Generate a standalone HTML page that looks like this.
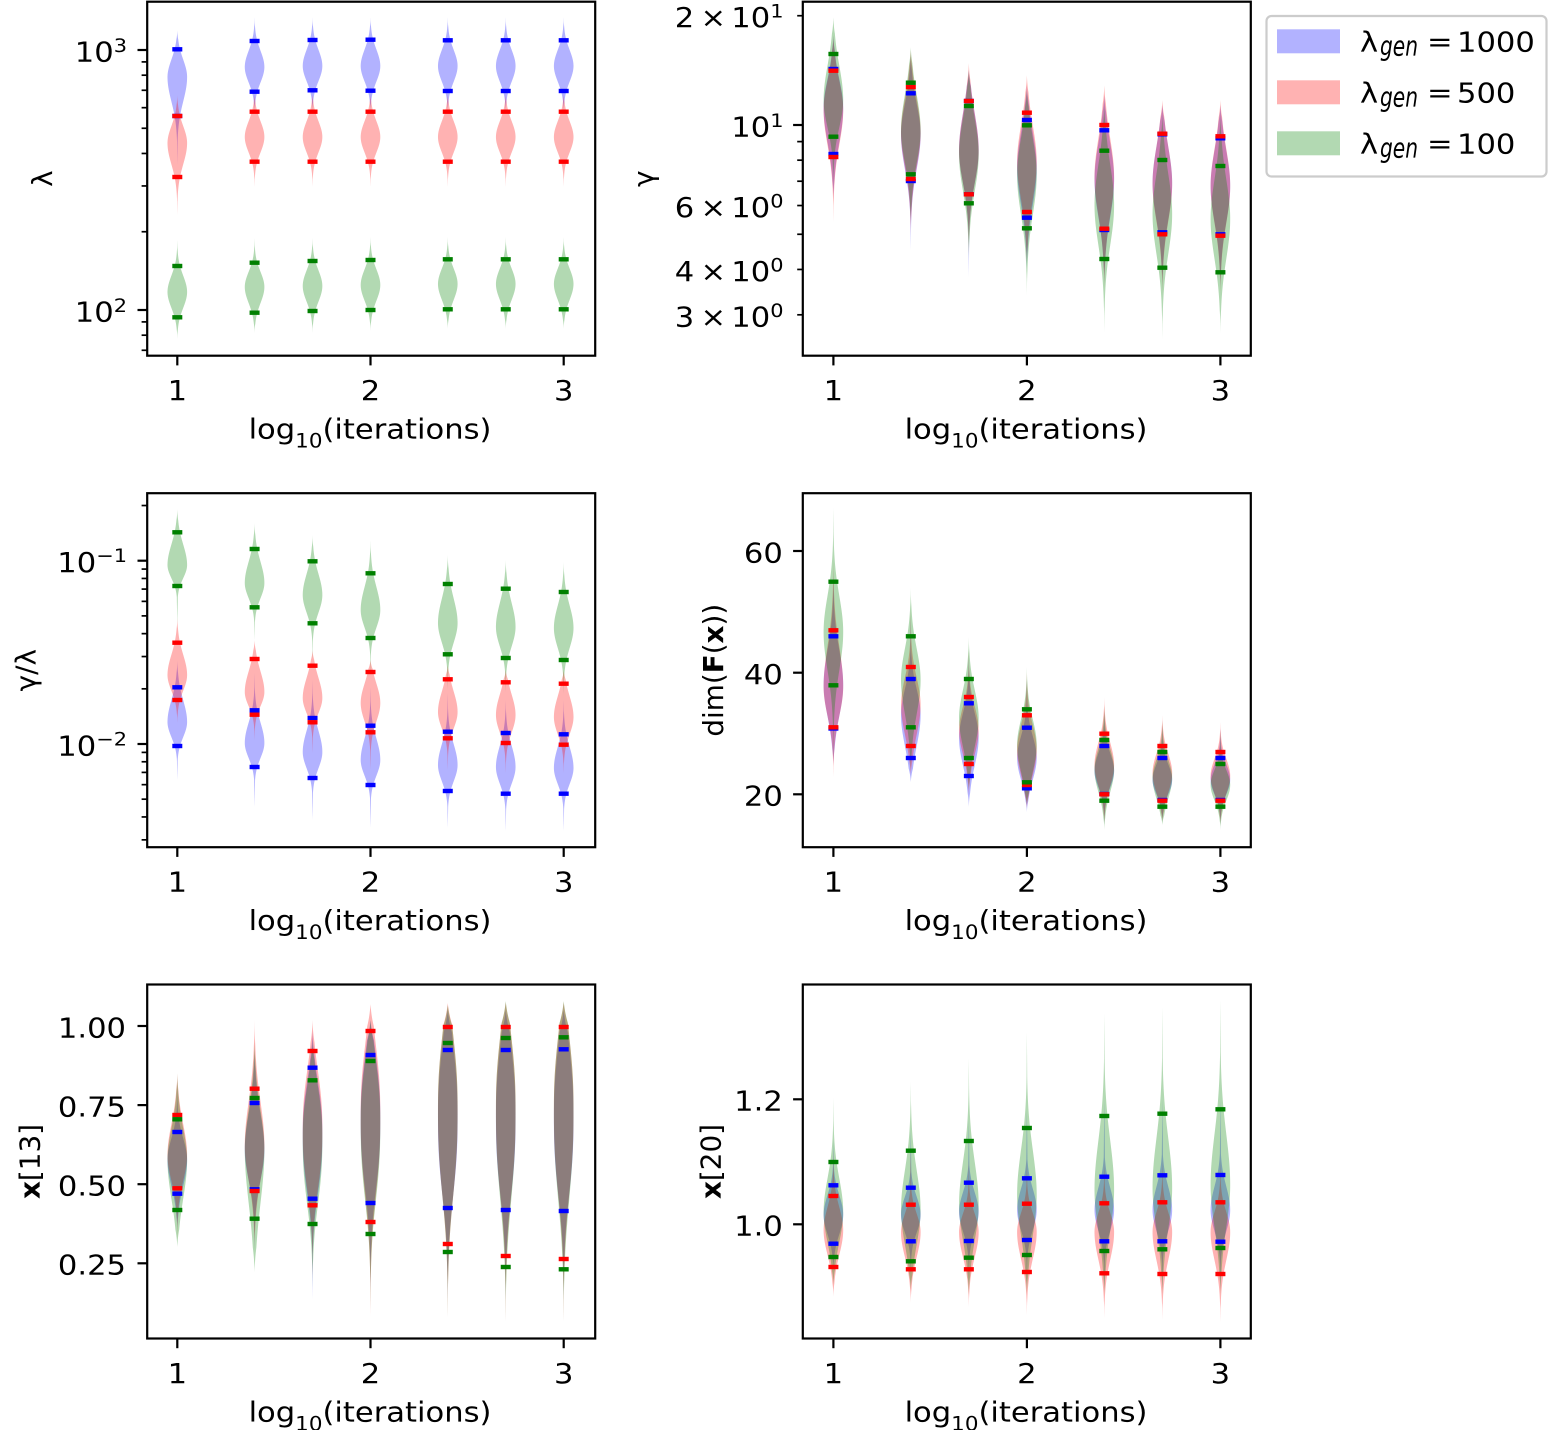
<!DOCTYPE html>
<html><head><meta charset="utf-8">
<style>
html,body{margin:0;padding:0;background:#fff;}
svg{display:block;}
text{font-family:"DejaVu Sans","Liberation Sans",sans-serif;font-size:27.8px;fill:#000;}
</style></head>
<body>
<svg id="c" xmlns="http://www.w3.org/2000/svg" width="1550" height="1430" viewBox="0 0 1550 1430">
<rect x="0" y="0" width="1550" height="1430" fill="#fff"/>
<defs>
<clipPath id="k0"><rect x="147.2" y="1.7" width="448" height="354"/></clipPath>
<clipPath id="k1"><rect x="802.8" y="1.7" width="448" height="354"/></clipPath>
<clipPath id="k2"><rect x="147.2" y="493.2" width="448" height="354"/></clipPath>
<clipPath id="k3"><rect x="802.8" y="493.2" width="448" height="354"/></clipPath>
<clipPath id="k4"><rect x="147.2" y="984.5" width="448" height="354"/></clipPath>
<clipPath id="k5"><rect x="802.8" y="984.5" width="448" height="354"/></clipPath>
</defs>
<g id="plots"></g>
<g id="axes"></g>

<!-- Panel 1 y tick labels -->
<text text-anchor="end" transform="translate(127,61.5) scale(1.1,1)">10<tspan font-size="19" dy="-9.5">3</tspan></text>
<text text-anchor="end" transform="translate(127,321.5) scale(1.1,1)">10<tspan font-size="19" dy="-9.5">2</tspan></text>

<!-- Panel 2 y tick labels -->
<text text-anchor="middle" transform="translate(684.5,27.2) scale(1.1,1)">2</text>
<text text-anchor="middle" transform="translate(713.3,27.2) scale(1.1,1)">×</text>
<text text-anchor="end" transform="translate(783.5,27.2) scale(1.1,1)">10<tspan font-size="19" dy="-9.5">1</tspan></text>
<text text-anchor="end" transform="translate(783.5,136.6) scale(1.1,1)">10<tspan font-size="19" dy="-9.5">1</tspan></text>
<text text-anchor="middle" transform="translate(684.5,217.2) scale(1.1,1)">6</text>
<text text-anchor="middle" transform="translate(713.3,217.2) scale(1.1,1)">×</text>
<text text-anchor="end" transform="translate(783.5,217.2) scale(1.1,1)">10<tspan font-size="19" dy="-9.5">0</tspan></text>
<text text-anchor="middle" transform="translate(684.5,281) scale(1.1,1)">4</text>
<text text-anchor="middle" transform="translate(713.3,281) scale(1.1,1)">×</text>
<text text-anchor="end" transform="translate(783.5,281) scale(1.1,1)">10<tspan font-size="19" dy="-9.5">0</tspan></text>
<text text-anchor="middle" transform="translate(684.5,326.5) scale(1.1,1)">3</text>
<text text-anchor="middle" transform="translate(713.3,326.5) scale(1.1,1)">×</text>
<text text-anchor="end" transform="translate(783.5,326.5) scale(1.1,1)">10<tspan font-size="19" dy="-9.5">0</tspan></text>

<!-- Panel 3 y tick labels -->
<text text-anchor="end" transform="translate(127,572.2) scale(1.1,1)">10<tspan font-size="19" dy="-10">−1</tspan></text>
<text text-anchor="end" transform="translate(127,755.5) scale(1.1,1)">10<tspan font-size="19" dy="-10">−2</tspan></text>

<!-- Panel 4 y tick labels -->
<text text-anchor="end" transform="translate(782.8,562.3) scale(1.1,1)">60</text>
<text text-anchor="end" transform="translate(782.8,684) scale(1.1,1)">40</text>
<text text-anchor="end" transform="translate(782.8,805.3) scale(1.1,1)">20</text>

<!-- Panel 5 y tick labels -->
<text text-anchor="end" transform="translate(126,1037.3) scale(1.1,1)">1.00</text>
<text text-anchor="end" transform="translate(126,1116.4) scale(1.1,1)">0.75</text>
<text text-anchor="end" transform="translate(126,1195.5) scale(1.1,1)">0.50</text>
<text text-anchor="end" transform="translate(126,1274.6) scale(1.1,1)">0.25</text>

<!-- Panel 6 y tick labels -->
<text text-anchor="end" transform="translate(782.8,1110.6) scale(1.1,1)">1.2</text>
<text text-anchor="end" transform="translate(782.8,1235.6) scale(1.1,1)">1.0</text>

<!-- X tick labels row 1 -->
<text text-anchor="middle" transform="translate(177.3,400.2) scale(1.1,1)">1</text>
<text text-anchor="middle" transform="translate(370.5,400.2) scale(1.1,1)">2</text>
<text text-anchor="middle" transform="translate(563.7,400.2) scale(1.1,1)">3</text>
<text text-anchor="middle" transform="translate(833.4,400.2) scale(1.1,1)">1</text>
<text text-anchor="middle" transform="translate(1026.9,400.2) scale(1.1,1)">2</text>
<text text-anchor="middle" transform="translate(1220.4,400.2) scale(1.1,1)">3</text>
<!-- row 2 -->
<text text-anchor="middle" transform="translate(177.3,891.7) scale(1.1,1)">1</text>
<text text-anchor="middle" transform="translate(370.5,891.7) scale(1.1,1)">2</text>
<text text-anchor="middle" transform="translate(563.7,891.7) scale(1.1,1)">3</text>
<text text-anchor="middle" transform="translate(833.4,891.7) scale(1.1,1)">1</text>
<text text-anchor="middle" transform="translate(1026.9,891.7) scale(1.1,1)">2</text>
<text text-anchor="middle" transform="translate(1220.4,891.7) scale(1.1,1)">3</text>
<!-- row 3 -->
<text text-anchor="middle" transform="translate(177.3,1383) scale(1.1,1)">1</text>
<text text-anchor="middle" transform="translate(370.5,1383) scale(1.1,1)">2</text>
<text text-anchor="middle" transform="translate(563.7,1383) scale(1.1,1)">3</text>
<text text-anchor="middle" transform="translate(833.4,1383) scale(1.1,1)">1</text>
<text text-anchor="middle" transform="translate(1026.9,1383) scale(1.1,1)">2</text>
<text text-anchor="middle" transform="translate(1220.4,1383) scale(1.1,1)">3</text>

<!-- X labels -->
<text text-anchor="middle" transform="translate(370,438.3) scale(1.1,1)">log<tspan font-size="19.5" dy="9">10</tspan><tspan dy="-9">(iterations)</tspan></text>
<text text-anchor="middle" transform="translate(1026,438.3) scale(1.1,1)">log<tspan font-size="19.5" dy="9">10</tspan><tspan dy="-9">(iterations)</tspan></text>
<text text-anchor="middle" transform="translate(370,929.8) scale(1.1,1)">log<tspan font-size="19.5" dy="9">10</tspan><tspan dy="-9">(iterations)</tspan></text>
<text text-anchor="middle" transform="translate(1026,929.8) scale(1.1,1)">log<tspan font-size="19.5" dy="9">10</tspan><tspan dy="-9">(iterations)</tspan></text>
<text text-anchor="middle" transform="translate(370,1421.3) scale(1.1,1)">log<tspan font-size="19.5" dy="9">10</tspan><tspan dy="-9">(iterations)</tspan></text>
<text text-anchor="middle" transform="translate(1026,1421.3) scale(1.1,1)">log<tspan font-size="19.5" dy="9">10</tspan><tspan dy="-9">(iterations)</tspan></text>

<!-- Y labels -->
<text text-anchor="middle" transform="translate(52,178.7) rotate(-90)">λ</text>
<text text-anchor="middle" transform="translate(653,178.7) rotate(-90)">γ</text>
<text text-anchor="middle" transform="translate(35.5,670.2) rotate(-90)">γ/λ</text>
<text text-anchor="middle" transform="translate(723,670.2) rotate(-90)">dim(<tspan font-weight="bold">F</tspan>(<tspan font-weight="bold">x</tspan>))</text>
<text text-anchor="middle" transform="translate(39.5,1161.5) rotate(-90)"><tspan font-weight="bold">x</tspan>[13]</text>
<text text-anchor="middle" transform="translate(720.7,1161.5) rotate(-90)"><tspan font-weight="bold">x</tspan>[20]</text>

<!-- Legend -->
<rect x="1266.5" y="16" width="280" height="160.5" rx="5" ry="5" fill="#fff" stroke="#cccccc" stroke-width="2.2"/>
<rect x="1277" y="29.3" width="63" height="24" fill="#0000ff" fill-opacity="0.3"/>
<rect x="1277" y="80.3" width="63" height="24" fill="#ff0000" fill-opacity="0.3"/>
<rect x="1277" y="131.3" width="63" height="24" fill="#008000" fill-opacity="0.3"/>
<text transform="translate(1360,51.5) scale(1.1,1)">λ</text>
<text x="1380" y="55.5" font-size="20" font-style="italic" textLength="38" lengthAdjust="spacingAndGlyphs">gen</text>
<text transform="translate(1427,51.5) scale(1.1,1)">=</text>
<text transform="translate(1457,51.5) scale(1.1,1)">1000</text>
<text transform="translate(1360,102.5) scale(1.1,1)">λ</text>
<text x="1380" y="106.5" font-size="20" font-style="italic" textLength="38" lengthAdjust="spacingAndGlyphs">gen</text>
<text transform="translate(1427,102.5) scale(1.1,1)">=</text>
<text transform="translate(1457,102.5) scale(1.1,1)">500</text>
<text transform="translate(1360,153.5) scale(1.1,1)">λ</text>
<text x="1380" y="157.5" font-size="20" font-style="italic" textLength="38" lengthAdjust="spacingAndGlyphs">gen</text>
<text transform="translate(1427,153.5) scale(1.1,1)">=</text>
<text transform="translate(1457,153.5) scale(1.1,1)">100</text>
</svg>
<script>
(function(){
var NS='http://www.w3.org/2000/svg';
function el(tag,at,par){var e=document.createElementNS(NS,tag);for(var k in at)e.setAttribute(k,at[k]);par.appendChild(e);return e;}
var plots=document.getElementById('plots'), axes=document.getElementById('axes');
var XS=[1,1.4,1.7,2,2.4,2.7,3];
var COL={b:'#0000ff',r:'#ff0000',g:'#008000'};
var WD=9.8;
function rep(a,n){var o=[];for(var i=0;i<n;i++)o.push(a.slice());return o;}
function lg(v){return Math.log(v)/Math.LN10;}
function f1(v){return 310-(lg(v)-2)*260;}
function f2(v){return 125-(lg(v)-1)*363;}
function f3(v){return 560.7-(lg(v)+1)*183.3;}

var P=[
{L:147.2,T:1.7,x1:177.3,u:193.2,k:1.6,
 maj:[50,310],
 min:[70,80,90,200,300,400,500,600,700,800,900].map(f1),
 d:{
  b:[[30,49.3,77,116,165],[17,41,67,91.7,112],[17,40,66,90.3,112],[17,39.7,66,90.7,112],[17,40.3,66,91,112],[17,40.3,66,91,112],[17,40.3,66,91,112]],
  r:[[95,116,143,177,215]].concat(rep([93,111.7,137,161.7,187],6)),
  g:[[240,266,292,317.3,339],[238,262.7,287,312.7,333],[238,261,286,311,333],[237,260,285,310,331],[237,259.3,284,309.3,329],[237,259.3,284,309.3,329],[237,259.3,284,309.3,329]]
 }},
{L:802.8,T:1.7,x1:833.4,u:193.5,k:1.35,
 maj:[125],
 min:[3,4,5,6,7,8,9,20].map(f2),
 d:{
  b:[[35,69,108,154,200],[55,93.3,135,181,250],[70,101,150,194.3,277],[85,120,168,217.7,270],[95,130.3,180,230,285],[105,134.3,183,232.3,290],[105,138.3,186,234.3,290]],
  r:[[35,70.7,110,157,222],[50,87,133,179,235],[63,101,150,194.3,255],[75,112.7,162,212,265],[85,125,177,228.7,290],[100,133.7,184,234.3,295],[100,136.3,186,235.7,295]],
  g:[[17,54,100,136.7,185],[47,82.7,130,174.3,225],[70,106,155,203.3,260],[90,125.3,175,228.3,295],[105,150.7,205,259,332],[115,160,214,267.7,339],[115,166,219,272.3,333]]
 }},
{L:147.2,T:493.2,x1:177.3,u:193.2,k:1.6,
 maj:[560.7,744],
 min:[0.003,0.004,0.005,0.006,0.007,0.008,0.009,0.02,0.03,0.04,0.05,0.06,0.07,0.08,0.09,0.2].map(f3),
 d:{
  b:[[660,687.3,722,746,780],[673,710.3,743,767,807],[680,718,752,778,820],[687,725.7,760,785,828],[693,731.7,765,791,828],[700,733,767,793.7,831],[700,734.3,768,793.7,831]],
  r:[[617,642.7,675,700,723],[640,659,692,714.7,740],[650,665.7,698,722.3,753],[660,672,703,732.3,770],[665,679.3,712,738.3,770],[670,682.3,715,743,773],[670,683.7,717,744.7,773]],
  g:[[509,532.3,565,586,625],[523,549,583,607.3,640],[535,561.3,595,623.3,660],[540,573.3,610,638,675],[555,584,623,654.3,690],[560,588.7,627,658,692],[562,592,628,660,694]]
 }},
{L:802.8,T:493.2,x1:833.4,u:193.5,k:1.4,
 maj:[551,672.7,794.3],min:[],
 d:{
  b:[[570,636.3,685,728.5,765],[615,679,715,758,782],[655,703.3,738,776,807],[680,727.7,758,788.3,812],[710,746,771,794,825],[725,758,780,800,822],[728,758,780,800,825]],
  r:[[560,630.3,687,727.3,777],[610,667,705,746,775],[650,697,730,764,795],[672,715.3,750,785,808],[697,733.7,765,794.3,825],[715,746,773,800.7,822],[722,752,776,800.7,825]],
  g:[[508,581.7,632,685.3,760],[588,636.3,680,727.3,770],[637,679,718,758,790],[667,709.3,745,782.3,805],[705,740,770,800.7,830],[720,752,778,806.7,825],[730,764,785,806.7,830]]
 }},
{L:147.2,T:984.5,x1:177.3,u:193.2,k:1.3,
 maj:[1026,1105.1,1184.2,1263.3],min:[],
 d:{
  b:[[1090,1132,1160,1193.7,1230],[1050,1103,1150,1189.3,1250],[1030,1067.7,1135,1198.7,1300,50,55,2.5],[1020,1055,1120,1203,1290,60,65,2.5],[1010,1050,1120,1208,1300,70,70,2.5],[1010,1050,1120,1210,1300,70,70,2.5],[1010,1049.3,1120,1211,1300,70,70,2.5]],
  r:[[1073,1115,1155,1188.3,1240],[1020,1088.7,1145,1191,1250],[1020,1051,1130,1205.3,1280,55,55,2.5],[1004,1031,1115,1222,1317,65,75,2.5],[1003,1027,1110,1244,1318,70,80,2.5],[1002,1027,1110,1256,1322,70,80,2.5],[1002,1027,1110,1259,1322,70,80,2.5]],
  g:[[1073,1119.3,1160,1210,1247],[1040,1098,1150,1218.7,1272],[1040,1080.3,1140,1224,1290,50,60,2.5],[1020,1061,1125,1234,1310,60,70,2.5],[1005,1043,1110,1252,1318,70,80,2.5],[1001,1038,1110,1267,1322,70,85,2.5],[1001,1037.3,1110,1269.3,1322,70,85,2.5]]
 }},
{L:802.8,T:984.5,x1:833.4,u:193.5,k:1.5,
 maj:[1099.3,1224.3],min:[],
 d:{
  b:[[1140,1185.3,1215,1243.7,1270],[1130,1187.7,1215,1241.3,1275],[1120,1182.7,1212,1241,1280],[1110,1178.3,1210,1240,1285],[1100,1176.7,1210,1241.3,1290],[1100,1175.3,1210,1241.3,1290],[1100,1175,1210,1241.7,1290]],
  r:[[1150,1196,1230,1267,1297],[1150,1204.7,1232,1269.3,1303],[1160,1204.7,1232,1269.3,1307],[1160,1203.7,1232,1272,1315],[1160,1203.3,1232,1273.3,1318],[1160,1202.3,1232,1274,1320],[1160,1202.3,1232,1274,1322]],
  g:[[1098,1162,1212,1257,1285],[1082,1150.7,1210,1261.3,1290],[1058,1141,1205,1257.7,1295],[1032,1128,1195,1255,1295],[1013,1116,1190,1251,1295],[1007,1113.7,1188,1249.3,1295],[1000,1109.3,1185,1248,1295]]
 }}
];

function violin(cx,v,k){
  var tt=v[0],mt=v[1],c=v[2],mb=v[3],tb=v[4];
  var sU=v[5]!==undefined?v[5]:Math.max(1,(c-mt)/k);
  var sD=v[6]!==undefined?v[6]:Math.max(1,(mb-c)/k);
  var p=v[7]!==undefined?v[7]:2;
  var n=Math.max(30,Math.ceil((tb-tt)*1.5));
  var R=[],Lf=[];
  for(var i=0;i<=n;i++){
    var y=tt+(tb-tt)*i/n,z,u;
    if(y<c){z=(c-y)/sU;u=(c-y)/Math.max(1,c-tt);}else{z=(y-c)/sD;u=(y-c)/Math.max(1,tb-c);}
    var g=WD*Math.exp(-0.5*Math.pow(z,p))*Math.min(1,(1-u)*5);
    var t=1.1*(1-u);
    var w=Math.max(g,t,0);
    R.push((cx+w).toFixed(2)+','+y.toFixed(2));
    Lf.push((cx-w).toFixed(2)+','+y.toFixed(2));
  }
  return 'M'+R.join(' L')+' L'+Lf.reverse().join(' L')+' Z';
}

P.forEach(function(p,pi){
  var g=el('g',{'clip-path':'url(#k'+pi+')'},plots);
  ['b','r','g'].forEach(function(s){
    p.d[s].forEach(function(v,i){
      var cx=p.x1+(XS[i]-1)*p.u;
      el('path',{d:violin(cx,v,p.k),fill:COL[s],'fill-opacity':0.3,stroke:'none'},g);
    });
  });
  ['b','r','g'].forEach(function(s){
    p.d[s].forEach(function(v,i){
      var cx=p.x1+(XS[i]-1)*p.u;
      el('rect',{x:cx-5,y:v[1]-2.2,width:10,height:4.4,fill:COL[s]},g);
      el('rect',{x:cx-5,y:v[3]-2.2,width:10,height:4.4,fill:COL[s]},g);
    });
  });
  var B=p.T+354;
  [1,2,3].forEach(function(xv){
    var x=p.x1+(xv-1)*p.u;
    el('line',{x1:x,y1:B,x2:x,y2:B+9.7,stroke:'#000','stroke-width':2.2},axes);
  });
  p.maj.forEach(function(y){
    el('line',{x1:p.L-9.7,y1:y,x2:p.L,y2:y,stroke:'#000','stroke-width':2.2},axes);
  });
  p.min.forEach(function(y){
    if(y>p.T&&y<B) el('line',{x1:p.L-5.6,y1:y,x2:p.L,y2:y,stroke:'#000','stroke-width':1.7},axes);
  });
  el('rect',{x:p.L,y:p.T,width:448,height:354,fill:'none',stroke:'#000','stroke-width':2.2},axes);
});
})();
</script>
</body></html>
